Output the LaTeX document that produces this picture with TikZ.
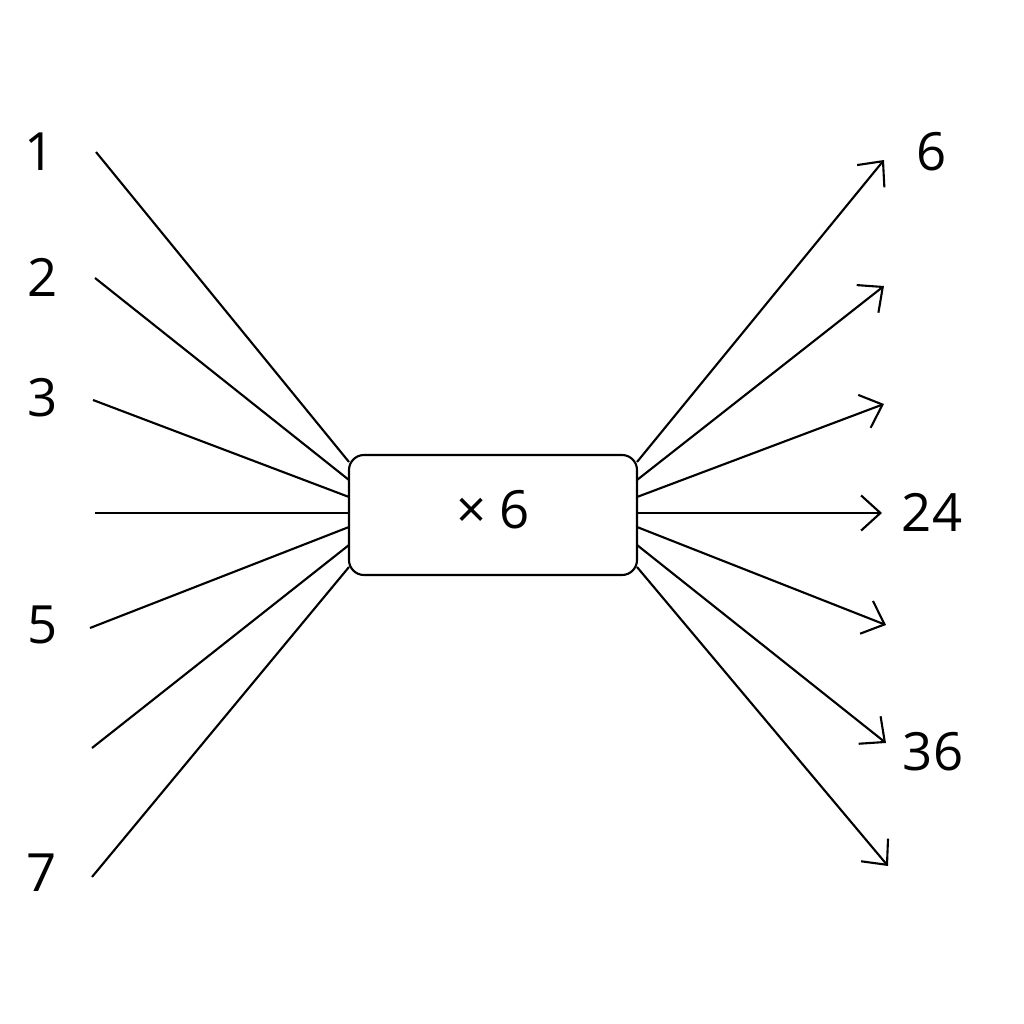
\documentclass[tikz,border=0pt]{standalone}
\usepackage{fontspec}
\setmainfont{Open Sans}
\usetikzlibrary{arrows.meta}
\tikzset{
  machine/.style={draw, line width=0.6pt, rounded corners=0.15cm, minimum width=2.88cm, minimum height=1.2cm, inner sep=0pt},
  num/.style={font=\fontsize{15}{18}\selectfont, inner sep=0pt},
  feed/.style={line width=0.6pt},
  result/.style={line width=0.6pt, -{Straight Barb[length=5.5pt,width=10pt,line width=0.6pt]}}
}
\begin{document}
\begin{tikzpicture}
    \useasboundingbox (0,0) rectangle (10.24,10.24);
    \node[machine] (box) at (4.93,5.09) {};
    \node[num] (rule) at (4.93,5.14) {× 6};
    % points where the lines meet the box
    \foreach \i/\y in {1/5.62, 2/5.44, 3/5.27, 4/5.11, 5/4.97, 6/4.79, 7/4.57} {
        \coordinate (a\i) at (3.49,\y);
        \coordinate (b\i) at (6.37,\y);
    }
    % free ends
    \foreach \i/\x/\y in {1/0.96/8.72, 2/0.95/7.46, 3/0.93/6.24, 4/0.95/5.11, 5/0.90/3.96, 6/0.92/2.76, 7/0.92/1.47}
        \coordinate (in\i) at (\x,\y);
    \foreach \i/\x/\y in {1/8.84/8.64, 2/8.84/7.38, 3/8.84/6.20, 4/8.82/5.11, 5/8.86/3.99, 6/8.86/2.81, 7/8.88/1.58}
        \coordinate (out\i) at (\x,\y);
    \foreach \i in {1,...,7} {
        \draw[feed] (in\i) -- (a\i);
        \draw[result] (b\i) -- (out\i);
    }
    % labels
    \node[num] (n1) at (0.40,8.72) {1};
    \node[num] (n2) at (0.43,7.47) {2};
    \node[num] (n3) at (0.43,6.26) {3};
    \node[num] (n5) at (0.43,3.99) {5};
    \node[num] (n7) at (0.42,1.51) {7};
    \node[num] (m1) at (9.32,8.72) {6};
    \node[num] (m4) at (9.32,5.12) {24};
    \node[num] (m6) at (9.33,2.72) {36};
\end{tikzpicture}
\end{document}
